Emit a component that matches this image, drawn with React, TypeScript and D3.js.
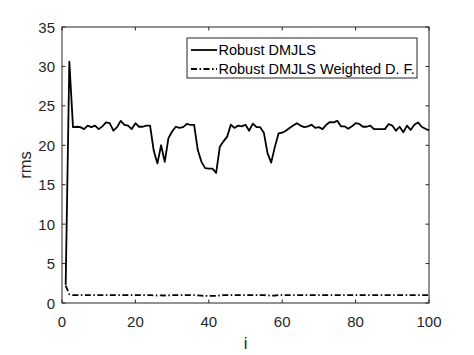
import React, { useEffect, useRef } from "react";
import * as d3 from "d3";

const robust: number[] = [
  2.3, 30.6, 22.3, 22.35, 22.3, 22.05, 22.5, 22.3, 22.5, 22.05,
  22.4, 22.9, 22.8, 21.85, 22.3, 23.1, 22.6, 22.5, 22.05, 22.8,
  22.35, 22.35, 22.5, 22.5, 19.3, 17.7, 20.0, 17.9, 20.9, 21.75,
  22.35, 22.2, 22.3, 22.7, 22.6, 22.6, 19.4, 17.9, 17.1, 17.05,
  17.05, 16.5, 19.8, 20.5, 21.1, 22.6, 22.2, 22.5, 22.4, 22.6,
  21.85, 22.75, 22.3, 22.3, 21.6, 19.0, 17.8, 19.8, 21.5, 21.6,
  21.85, 22.2, 22.5, 22.8, 22.5, 22.3, 22.4, 22.6, 22.2, 22.3,
  22.05, 22.6, 22.95, 22.9, 23.1, 22.4, 22.4, 22.1, 22.4, 22.8,
  22.7, 22.35, 22.35, 22.5, 22.05, 22.05, 22.05, 22.05, 22.7, 22.5,
  21.85, 22.35, 21.65, 22.5, 21.95, 22.6, 22.9, 22.35, 22.1, 21.9,
];

const weighted: number[] = [
  2.2, 1.1, 1.0, 1.0, 1.0, 1.0, 1.0, 1.0, 1.0, 1.0,
  1.0, 1.0, 1.0, 1.0, 1.0, 1.0, 1.0, 1.0, 1.0, 1.0,
  1.0, 1.0, 1.0, 1.0, 0.97, 0.95, 0.97, 0.95, 0.97, 1.0,
  1.0, 1.0, 1.0, 1.0, 1.0, 1.0, 0.97, 0.93, 0.9, 0.9,
  0.9, 0.9, 0.95, 1.0, 1.0, 1.0, 1.0, 1.0, 1.0, 1.0,
  1.0, 1.0, 1.0, 1.0, 1.0, 0.97, 0.92, 0.95, 1.0, 1.0,
  1.0, 1.0, 1.0, 1.0, 1.0, 1.0, 1.0, 1.0, 1.0, 1.0,
  1.0, 1.0, 1.0, 1.0, 1.0, 1.0, 1.0, 1.0, 1.0, 1.0,
  1.0, 1.0, 1.0, 1.0, 1.0, 1.0, 1.0, 1.0, 1.0, 1.0,
  1.0, 1.0, 1.0, 1.0, 1.0, 1.0, 1.0, 1.0, 1.0, 1.0,
];

const xTicks: number[] = [0, 20, 40, 60, 80, 100];
const yTicks: number[] = [0, 5, 10, 15, 20, 25, 30, 35];
const legendLabels: string[] = ["Robust DMJLS", "Robust DMJLS Weighted D. F."];
const xLabel = "i";
const yLabel = "rms";

const W = 474;
const H = 355;
const L = 62, R = 429, T = 27, B = 303;
const AX = "#262626";
const FONT = "'Liberation Sans', Arial, Helvetica, sans-serif";

export default function App() {
  const ref = useRef<SVGSVGElement>(null);

  useEffect(() => {
    const svg = d3.select(ref.current);
    svg.selectAll("*").remove();

    const x = d3.scaleLinear().domain([0, 100]).range([L, R]);
    const y = d3.scaleLinear().domain([0, 35]).range([B, T]);

    svg.append("rect").attr("width", W).attr("height", H).attr("fill", "#fff");

    const g = svg.append("g");

    const line = d3
      .line<number>()
      .x((_, i) => x(i + 1))
      .y((d) => y(d));

    g.append("path")
      .datum(robust)
      .attr("d", line)
      .attr("fill", "none")
      .attr("stroke", "#000")
      .attr("stroke-width", 1.8)
      .attr("stroke-linejoin", "round");

    g.append("path")
      .datum(weighted)
      .attr("d", line)
      .attr("fill", "none")
      .attr("stroke", "#000")
      .attr("stroke-width", 1.8)
      .attr("stroke-dasharray", "6,2.5,1.5,2.5");

    // box
    g.append("rect")
      .attr("x", L)
      .attr("y", T)
      .attr("width", R - L)
      .attr("height", B - T)
      .attr("fill", "none")
      .attr("stroke", AX)
      .attr("stroke-width", 1);

    const tl = 3.5;
    xTicks.forEach((t) => {
      const px = x(t);
      g.append("line").attr("x1", px).attr("x2", px).attr("y1", B).attr("y2", B - tl).attr("stroke", AX);
      g.append("line").attr("x1", px).attr("x2", px).attr("y1", T).attr("y2", T + tl).attr("stroke", AX);
      g.append("text")
        .attr("x", px)
        .attr("y", B + 24)
        .attr("text-anchor", "middle")
        .attr("font-family", FONT)
        .attr("font-size", 15)
        .attr("fill", AX)
        .text(String(t));
    });
    yTicks.forEach((t) => {
      const py = y(t);
      g.append("line").attr("x1", L).attr("x2", L + tl).attr("y1", py).attr("y2", py).attr("stroke", AX);
      g.append("line").attr("x1", R).attr("x2", R - tl).attr("y1", py).attr("y2", py).attr("stroke", AX);
      g.append("text")
        .attr("x", L - 7)
        .attr("y", py + 5.5)
        .attr("text-anchor", "end")
        .attr("font-family", FONT)
        .attr("font-size", 15)
        .attr("fill", AX)
        .text(String(t));
    });

    g.append("text")
      .attr("x", (L + R) / 2)
      .attr("y", 349)
      .attr("text-anchor", "middle")
      .attr("font-family", FONT)
      .attr("font-size", 16.5)
      .attr("fill", AX)
      .text(xLabel);
    g.append("text")
      .attr("transform", `translate(31,${(T + B) / 2}) rotate(-90)`)
      .attr("text-anchor", "middle")
      .attr("font-family", FONT)
      .attr("font-size", 16.5)
      .attr("fill", AX)
      .text(yLabel);

    // legend
    const lx = 187, ly = 38, lw = 230, lh = 40;
    g.append("rect")
      .attr("x", lx)
      .attr("y", ly)
      .attr("width", lw)
      .attr("height", lh)
      .attr("fill", "#fff")
      .attr("stroke", AX)
      .attr("stroke-width", 1);
    const rows = [ly + 12, ly + 31];
    legendLabels.forEach((lab, k) => {
      const ry = rows[k];
      const ln = g
        .append("line")
        .attr("x1", 191)
        .attr("x2", 217)
        .attr("y1", ry)
        .attr("y2", ry)
        .attr("stroke", "#000")
        .attr("stroke-width", 1.8);
      if (k === 1) ln.attr("stroke-dasharray", "6,2.5,1.5,2.5");
      g.append("text")
        .attr("x", 218.5)
        .attr("y", ry + 5)
        .attr("font-family", FONT)
        .attr("font-size", 14.5)
        .attr("fill", "#000")
        .text(lab);
    });
  }, []);

  return (
    <svg
      ref={ref}
      width={W}
      height={H}
      style={{ position: "absolute", left: 0, top: 0, display: "block" }}
    />
  );
}
